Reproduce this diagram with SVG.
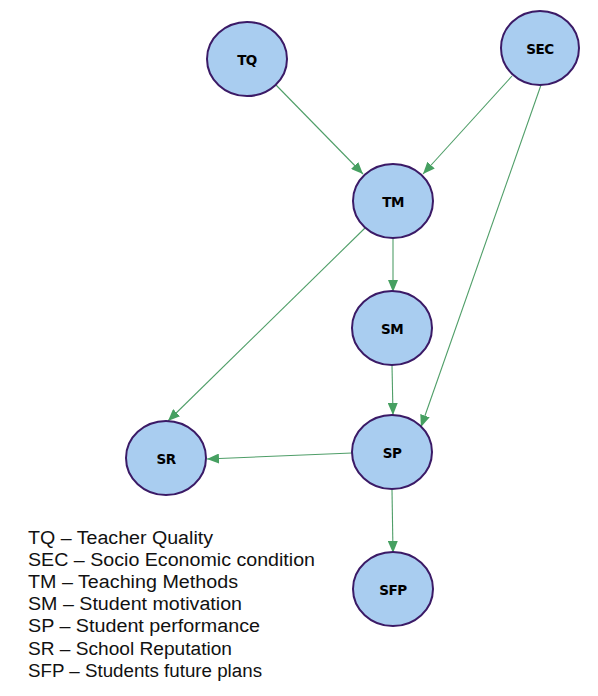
<svg xmlns="http://www.w3.org/2000/svg" width="598" height="696" viewBox="0 0 598 696">
<style>
.node ellipse{fill:#a9cdf0;stroke:#3b1a66;stroke-width:2}
.node text{font-family:"DejaVu Sans","Liberation Sans",sans-serif;font-weight:bold;font-size:13.5px;fill:#000;text-anchor:middle;dominant-baseline:central;letter-spacing:-0.5px}
.edges line{stroke:#4f9e68;stroke-width:1.1;marker-end:url(#ah)}
.legend text{font-family:"Liberation Sans","DejaVu Sans",sans-serif;font-size:18px;fill:#111}
</style>
<defs>
<marker id="ah" viewBox="0 0 12 10" refX="12" refY="5" markerWidth="12" markerHeight="10" markerUnits="userSpaceOnUse" orient="auto">
<path d="M0,0 L12,5 L0,10 z" fill="#46a061"/>
</marker>
</defs>
<rect width="598" height="696" fill="#fff"/>
<g class="edges">
<line x1="276" y1="85" x2="363" y2="174"/>
<line x1="512" y1="76" x2="423" y2="174"/>
<line x1="541" y1="85" x2="421" y2="427"/>
<line x1="365" y1="228" x2="168" y2="421"/>
<line x1="393" y1="238" x2="393" y2="292"/>
<line x1="392" y1="365" x2="393" y2="415"/>
<line x1="352" y1="453" x2="207" y2="459"/>
<line x1="392" y1="490" x2="393" y2="553"/>
</g>
<g id="TQ" class="node"><ellipse cx="247" cy="59" rx="40" ry="37"/><text x="247" y="60">TQ</text></g>
<g id="SEC" class="node"><ellipse cx="540" cy="48" rx="39" ry="37"/><text x="540" y="49">SEC</text></g>
<g id="TM" class="node"><ellipse cx="393" cy="201" rx="40" ry="37"/><text x="393" y="202">TM</text></g>
<g id="SM" class="node"><ellipse cx="392" cy="328" rx="40" ry="37"/><text x="392" y="329">SM</text></g>
<g id="SP" class="node"><ellipse cx="392" cy="452" rx="40" ry="37"/><text x="392" y="453">SP</text></g>
<g id="SR" class="node"><ellipse cx="166" cy="458" rx="40" ry="37"/><text x="166" y="459">SR</text></g>
<g id="SFP" class="node"><ellipse cx="393" cy="589" rx="40" ry="37"/><text x="393" y="590">SFP</text></g>
<g class="legend">
<text x="28" y="544" textLength="185" lengthAdjust="spacingAndGlyphs">TQ – Teacher Quality</text>
<text x="28" y="566" textLength="287" lengthAdjust="spacingAndGlyphs">SEC – Socio Economic condition</text>
<text x="28" y="588" textLength="210" lengthAdjust="spacingAndGlyphs">TM – Teaching Methods</text>
<text x="28" y="610" textLength="214" lengthAdjust="spacingAndGlyphs">SM – Student motivation</text>
<text x="28" y="632" textLength="232" lengthAdjust="spacingAndGlyphs">SP – Student performance</text>
<text x="28" y="655" textLength="204" lengthAdjust="spacingAndGlyphs">SR – School Reputation</text>
<text x="28" y="677" textLength="234" lengthAdjust="spacingAndGlyphs">SFP – Students future plans</text>
</g>
</svg>
